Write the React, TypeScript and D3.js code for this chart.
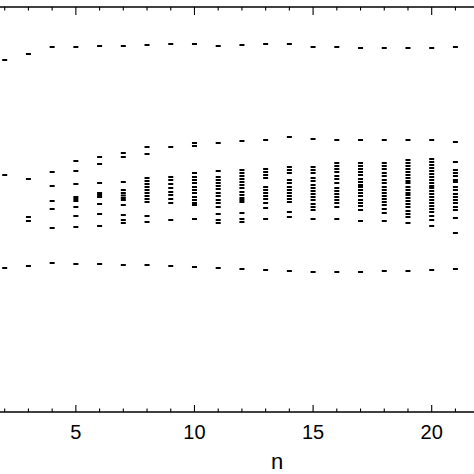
import React from "react";
import * as d3 from "d3";

const W = 474;
const H = 474;

const nValues = [2, 3, 4, 5, 6, 7, 8, 9, 10, 11, 12, 13, 14, 15, 16, 17, 18, 19, 20, 21];

const upperLevel = [3.52, 3.58, 3.65, 3.65, 3.66, 3.66, 3.67, 3.68, 3.68, 3.66, 3.67, 3.68, 3.68, 3.65, 3.65, 3.64, 3.64, 3.64, 3.64, 3.65];

const lowerLevel = [1.44, 1.46, 1.49, 1.48, 1.48, 1.47, 1.47, 1.46, 1.45, 1.44, 1.43, 1.42, 1.41, 1.40, 1.40, 1.40, 1.41, 1.41, 1.42, 1.43];

const middleLevels: number[][] = [
  [2.37],
  [2.33, 1.95, 1.91],
  [2.40, 2.26, 2.11, 2.03, 1.84],
  [2.51, 2.41, 2.28, 2.15, 2.13, 2.11, 2.05, 1.96, 1.85],
  [2.55, 2.48, 2.29, 2.19, 2.17, 2.15, 2.08, 1.98, 1.86],
  [2.59, 2.55, 2.30, 2.22, 2.19, 2.165, 2.14, 2.12, 2.07, 1.97, 1.92, 1.89],
  [2.65, 2.58, 2.34, 2.31, 2.28, 2.25, 2.22, 2.19, 2.16, 2.13, 2.10, 1.96, 1.90],
  [2.65, 2.35, 2.32, 2.28, 2.24, 2.20, 2.17, 2.13, 2.09, 1.92],
  [2.69, 2.66, 2.39, 2.35, 2.32, 2.29, 2.25, 2.22, 2.19, 2.15, 2.12, 2.09, 2.07, 1.93],
  [2.69, 2.41, 2.35, 2.32, 2.29, 2.26, 2.23, 2.19, 2.16, 2.12, 2.09, 2.05, 1.98, 1.92, 1.89],
  [2.71, 2.42, 2.39, 2.36, 2.33, 2.30, 2.27, 2.24, 2.20, 2.17, 2.14, 2.12, 2.10, 1.99, 1.93, 1.90],
  [2.72, 2.43, 2.40, 2.37, 2.34, 2.25, 2.22, 2.19, 2.16, 2.13, 2.09, 2.04, 1.93],
  [2.75, 2.45, 2.42, 2.39, 2.32, 2.29, 2.25, 2.22, 2.19, 2.16, 2.13, 2.10, 2.00, 1.95],
  [2.73, 2.45, 2.42, 2.39, 2.34, 2.31, 2.27, 2.24, 2.21, 2.18, 2.15, 2.12, 2.08, 2.05, 2.02, 1.93],
  [2.72, 2.49, 2.46, 2.43, 2.40, 2.36, 2.33, 2.29, 2.24, 2.21, 2.18, 2.15, 2.12, 2.09, 2.05, 1.93],
  [2.72, 2.49, 2.46, 2.43, 2.40, 2.37, 2.33, 2.30, 2.27, 2.25, 2.22, 2.19, 2.16, 2.12, 2.09, 2.06, 2.02, 1.91],
  [2.72, 2.49, 2.46, 2.43, 2.39, 2.36, 2.32, 2.29, 2.25, 2.22, 2.19, 2.16, 2.13, 2.10, 2.07, 2.03, 1.99, 1.91],
  [2.72, 2.52, 2.49, 2.46, 2.43, 2.40, 2.37, 2.34, 2.31, 2.29, 2.25, 2.22, 2.19, 2.17, 2.14, 2.11, 2.08, 2.05, 2.01, 1.98, 1.95, 1.89],
  [2.72, 2.53, 2.50, 2.47, 2.44, 2.41, 2.38, 2.35, 2.32, 2.29, 2.26, 2.24, 2.21, 2.18, 2.15, 2.12, 2.09, 2.06, 2.03, 2.00, 1.96, 1.92, 1.86],
  [2.70, 2.50, 2.42, 2.39, 2.36, 2.32, 2.30, 2.25, 2.22, 2.18, 2.15, 2.12, 2.09, 2.05, 2.02, 1.94, 1.79],
];

const xTicks = [1, 2, 3, 4, 5, 6, 7, 8, 9, 10, 11, 12, 13, 14, 15, 16, 17, 18, 19, 20, 21, 22];
const xTickLabels = [5, 10, 15, 20];
const xLabel = "n";

export default function App() {
  const x = d3.scaleLinear().domain([2, 20]).range([4.7, 431.7]);
  const y = d3.scaleLinear().domain([0, 4.05]).range([412, 7]);
  const yTop = y(4.05);
  const yBot = y(0);

  const points: { n: number; v: number }[] = [];
  nValues.forEach((n, i) => {
    points.push({ n, v: upperLevel[i] });
    points.push({ n, v: lowerLevel[i] });
    middleLevels[i].forEach((v) => points.push({ n, v }));
  });

  const font = "'Liberation Sans', Arial, Helvetica, sans-serif";

  return (
    <svg
      width={W}
      height={H}
      style={{ position: "absolute", left: 0, top: 0, background: "#fff" }}
    >
      <rect x={0} y={0} width={W} height={H} fill="#fff" />
      {/* frame lines */}
      <line x1={0} x2={W} y1={yTop} y2={yTop} stroke="#000" strokeWidth={1.3} />
      <line x1={0} x2={W} y1={yBot} y2={yBot} stroke="#000" strokeWidth={1.3} />
      {xTicks.map((t) => {
        const major = t % 5 === 0;
        const px = x(t);
        if (px < -2 || px > W + 2) return null;
        return (
          <g key={t}>
            <line x1={px} x2={px} y1={yBot} y2={yBot - (major ? 7 : 3.5)} stroke="#000" strokeWidth={1.1} />
            <line x1={px} x2={px} y1={yTop} y2={yTop + (major ? 8 : 3.5)} stroke="#000" strokeWidth={1.1} />
          </g>
        );
      })}
      {xTickLabels.map((t) => (
        <text
          key={t}
          x={x(t)}
          y={439}
          textAnchor="middle"
          fontFamily={font}
          fontSize={20}
          fill="#000"
        >
          {t}
        </text>
      ))}
      <text x={277} y={469} textAnchor="middle" fontFamily={font} fontSize={22} fill="#000">
        {xLabel}
      </text>
      {points.map((p, i) => (
        <rect
          key={i}
          x={x(p.n) - 2.5}
          y={y(p.v) - 1}
          width={5}
          height={2}
          fill="#000"
        />
      ))}
    </svg>
  );
}
